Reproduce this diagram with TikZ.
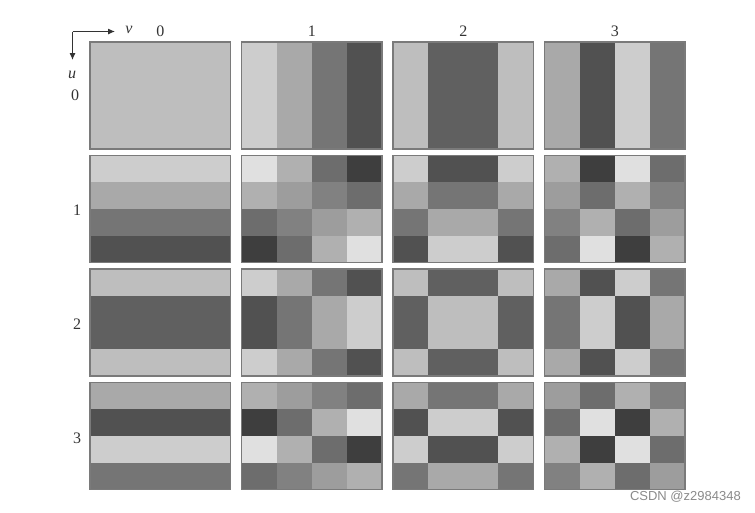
\documentclass[tikz,border=0pt]{standalone}
\usepackage{fontspec}
\setmainfont{Liberation Serif}
\newfontfamily\wmfont{Liberation Sans}
\usetikzlibrary{arrows.meta}
\definecolor{labelc}{HTML}{333333}
\definecolor{wmc}{HTML}{8A8A8A}
\definecolor{borderc}{HTML}{7A7A7A}
\tikzset{
  lbl/.style={font=\fontsize{16}{18}\selectfont, text=labelc, inner sep=0pt},
  axisarrow/.style={draw=labelc, line width=1pt, -{Latex[length=7pt,width=6pt]}},
  panelborder/.style={draw=borderc, line width=1.6pt},
  wm/.style={font=\wmfont\fontsize{13}{15}\selectfont, text=wmc, inner sep=0pt}
}
\begin{document}
\begin{tikzpicture}[x=1pt,y=-1pt]
\useasboundingbox (0,0) rectangle (755,512);
% basis images
\foreach \u in {0,...,3}{
  \foreach \v in {0,...,3}{
    \pgfmathsetmacro{\px}{90+151.5*\v}
    \pgfmathsetmacro{\py}{42+113.5*\u}
    \pgfmathsetmacro{\au}{\u==0 ? 0.5 : 0.70711}
    \pgfmathsetmacro{\av}{\v==0 ? 0.5 : 0.70711}
    \foreach \x in {0,...,3}{
      \foreach \y in {0,...,3}{
        \pgfmathsetmacro{\g}{(143+190*\au*\av*cos((2*\x+1)*\v*22.5)*cos((2*\y+1)*\u*22.5))/255}
        \definecolor{cellc}{gray}{\g}
        \fill[cellc] (\px+\x*35.125, \py+\y*26.75) rectangle ++(35.125,26.75);
      }
    }
    \draw[panelborder] (\px,\py) rectangle ++(140.5,107);
  }
}
% axis arrows
\coordinate (origin) at (72.5,31.5);
\coordinate (vend) at (115,31.5);
\coordinate (uend) at (72.5,60);
\draw[axisarrow] (origin) -- (vend);
\draw[axisarrow] (origin) -- (uend);
\node[lbl] (vlab) at (129,30) {\textit{v}};
\node[lbl] (ulab) at (72,75) {\textit{u}};
% column labels
\node[lbl] (c0) at (160.25,31) {0};
\node[lbl] (c1) at (311.75,31) {1};
\node[lbl] (c2) at (463.25,31) {2};
\node[lbl] (c3) at (614.75,31) {3};
% row labels
\node[lbl] (r0) at (75,95) {0};
\node[lbl] (r1) at (77,210) {1};
\node[lbl] (r2) at (77,324) {2};
\node[lbl] (r3) at (77,438) {3};
% watermark
\node[wm, anchor=east] (wmark) at (741,497) {CSDN @z2984348};
\end{tikzpicture}
\end{document}
